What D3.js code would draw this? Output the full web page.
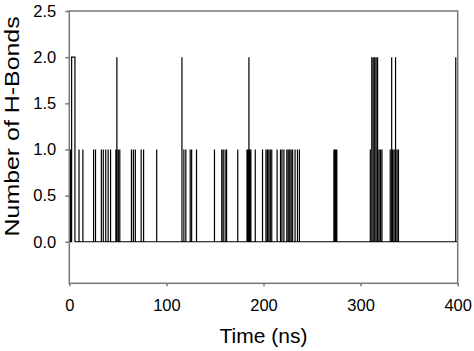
<!DOCTYPE html>
<html>
<head>
<meta charset="utf-8">
<script src="https://cdn.jsdelivr.net/npm/d3@7"></script>
<style>
body { margin: 0; background: #fff; }
text { font-family: "Liberation Sans", Arial, sans-serif; fill: #000; }
</style>
</head>
<body>
<svg id="chart" width="474" height="351"></svg>
<script>
// tick labels
const xTicks = [0, 100, 200, 300, 400];
const yTicks = [0, 0.5, 1.0, 1.5, 2.0, 2.5];

// single frames where the H-bond count jumps (time in ns, bonds)
const spikeTimes = [0.5, 1.3, 10, 14, 25, 27, 33, 35, 37.5, 40, 42.5, 48, 49, 50.5, 52,
	64, 66, 68, 74, 76.5, 90, 116, 118, 120, 124.5, 126, 131, 149.5,
	157, 158.5, 160.5, 162, 173.5, 183, 184, 185, 186, 187, 191.5, 199,
	202.5, 204, 205.5, 207, 208.5, 214, 217.5, 219, 221, 224, 225.5, 227, 228.5,
	230, 232.5, 235, 237, 272.5, 273.5, 274.5, 275.5,
	310, 311.5, 313, 314.5, 316, 317.5, 319, 320.5, 322,
	330.5, 332, 333, 334.5, 336, 337.5, 339, 398];
const spikeBonds = [1, 1, 1, 1, 1, 1, 1, 1, 1, 1, 1, 1, 2, 1, 1,
	1, 1, 1, 1, 1, 1, 2, 1, 1, 1, 1, 1, 1,
	1, 1, 1, 1, 1, 1, 1, 2, 1, 1, 1, 1,
	1, 1, 1, 1, 1, 1, 1, 1, 1, 1, 1, 1, 1,
	1, 1, 1, 1, 1, 1, 1, 1,
	1, 2, 2, 2, 2, 2, 1, 1, 1,
	1, 2, 1, 1, 2, 1, 1, 2];

// the one stretch that stays at 2 bonds: [start, end, bonds]
const widePulse = [2.4, 5.8, 2];

const svg = d3.select("#chart");
const margin = { left: 69.3, right: 16.3, top: 11, bottom: 67.7 };
const width = 474, height = 351;

const x = d3.scaleLinear().domain([0, 400]).range([margin.left, width - margin.right]);
const y = d3.scaleLinear().domain([-0.45, 2.5]).range([height - margin.bottom, margin.top]);

// build the trace
const pts = [[0, 0]];
const events = spikeTimes.map((t, i) => ({ s: t, e: t, v: spikeBonds[i] }));
events.push({ s: widePulse[0], e: widePulse[1], v: widePulse[2] });
events.sort((a, b) => a.s - b.s);
events.forEach(ev => {
	pts.push([ev.s, 0], [ev.s, ev.v], [ev.e, ev.v], [ev.e, 0]);
});
pts.push([400, 0]);

const line = d3.line().x(d => x(d[0])).y(d => y(d[1]));

svg.append("path")
	.datum(pts)
	.attr("d", line)
	.attr("fill", "none")
	.attr("stroke", "#000")
	.attr("stroke-width", 1.2);

// frame
svg.append("rect")
	.attr("x", x(0)).attr("y", y(2.5))
	.attr("width", x(400) - x(0))
	.attr("height", y(-0.45) - y(2.5))
	.attr("fill", "none")
	.attr("stroke", "#777")
	.attr("stroke-width", 1.5);

const yAxis = svg.append("g")
	.attr("transform", "translate(" + x(0) + ",0)")
	.call(d3.axisLeft(y).tickValues(yTicks).tickSize(4).tickPadding(9).tickFormat(d3.format(".1f")));

const xAxis = svg.append("g")
	.attr("transform", "translate(0," + y(-0.45) + ")")
	.call(d3.axisBottom(x).tickValues(xTicks).tickSize(3).tickPadding(13));

[yAxis, xAxis].forEach(g => {
	g.select(".domain").remove();
	g.selectAll(".tick line").attr("stroke", "#777").attr("stroke-width", 1.5);
	g.selectAll(".tick text").style("font-size", "16.5px").attr("fill", "#000");
});

svg.append("text")
	.attr("x", (x(0) + x(400)) / 2)
	.attr("y", 342.7)
	.attr("text-anchor", "middle")
	.style("font-size", "21px")
	.text("Time (ns)");

svg.append("text")
	.attr("transform", "translate(19," + (y(0) + y(2.5)) / 2 + ") rotate(-90)")
	.attr("text-anchor", "middle")
	.attr("textLength", 220)
	.attr("lengthAdjust", "spacingAndGlyphs")
	.style("font-size", "21px")
	.text("Number of H-Bonds");
</script>
</body>
</html>
